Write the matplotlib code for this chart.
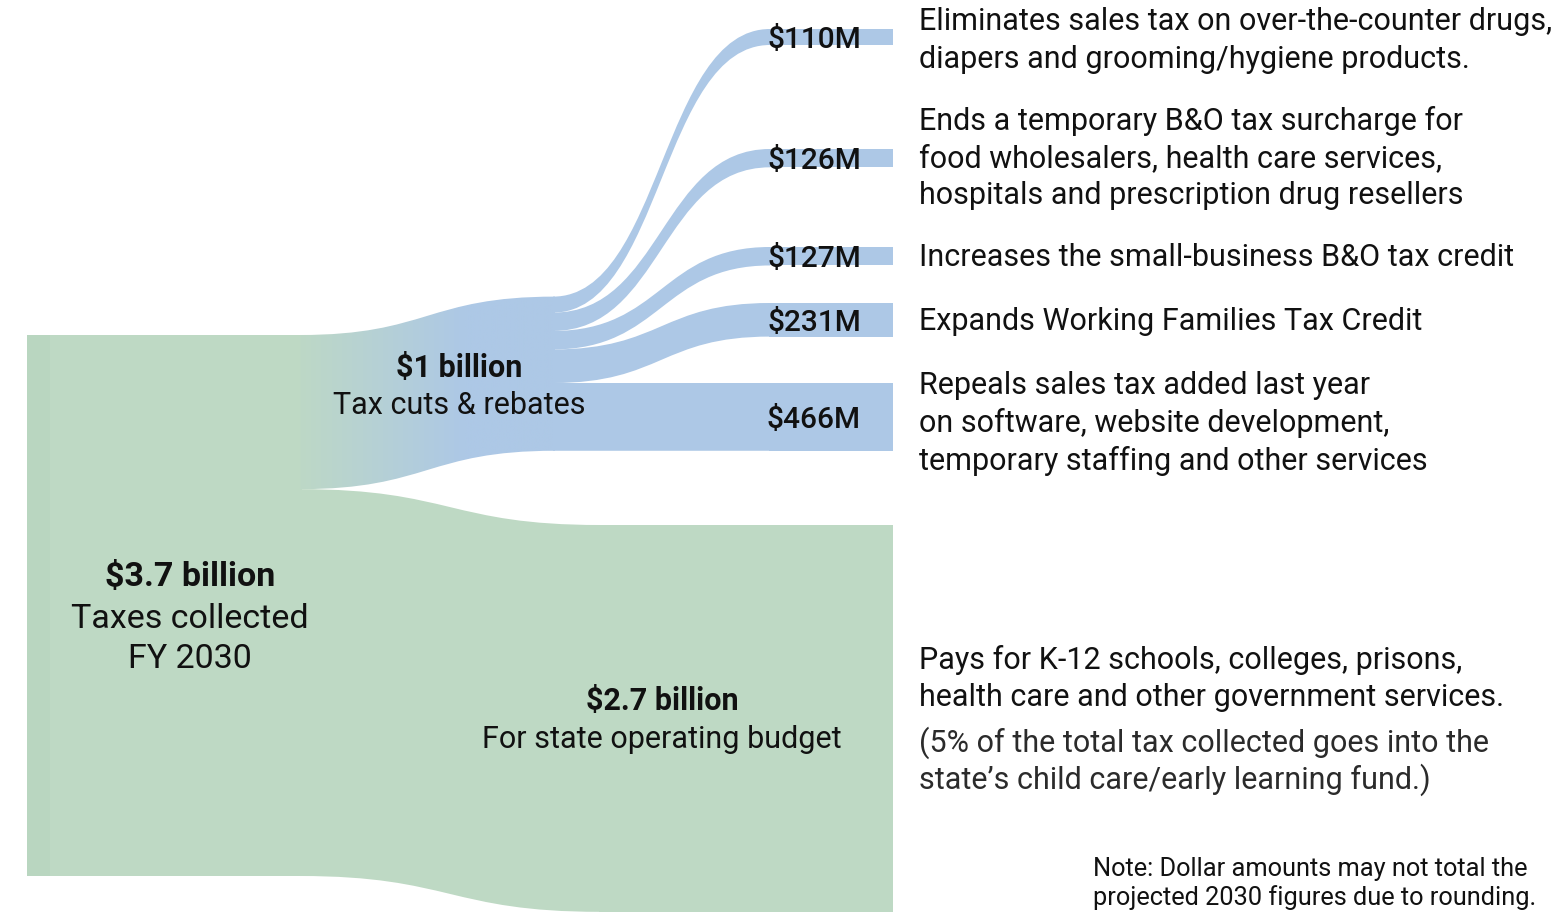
import numpy as np
import matplotlib.pyplot as plt
from matplotlib.path import Path
from matplotlib.patches import PathPatch, Rectangle
from matplotlib.colors import LinearSegmentedColormap

plt.rcParams['font.family'] = ['Roboto', 'DejaVu Sans']

# Data (billions)
total = 3.72
budget = 2.66
cut_values = [0.110, 0.126, 0.127, 0.231, 0.466]
cut_labels = ['$110M', '$126M', '$127M', '$231M', '$466M']
cut_texts = [
    ['Eliminates sales tax on over-the-counter drugs,',
     'diapers and grooming/hygiene products.'],
    ['Ends a temporary B&O tax surcharge for',
     'food wholesalers, health care services,',
     'hospitals and prescription drug resellers'],
    ['Increases the small-business B&O tax credit'],
    ['Expands Working Families Tax Credit'],
    ['Repeals sales tax added last year',
     'on software, website development,',
     'temporary staffing and other services'],
]
budget_text = ['Pays for K-12 schools, colleges, prisons,',
               'health care and other government services.']
fund_text = ['(5% of the total tax collected goes into the',
             'state\u2019s child care/early learning fund.)']
note_text = ['Note: Dollar amounts may not total the',
             'projected 2030 figures due to rounding.']

GREEN = '#bed9c4'
GREEN_DARK = '#b9d6c0'
BLUE = '#adc8e6'
INK = '#111111'
FS = 22
DY = 2  # text baseline nudge

# layout (pixel space)
scale = 541 / total
x_left, x_node, x_mid, x_split, x_end = 27, 300, 555, 770, 893
top_left = 335
cut_tops_right = [29, 149, 247, 303, 383]
budget_top_right = 525


def band(x0, x1, t0, t1, h0, h1=None):
    if h1 is None:
        h1 = h0
    xm = (x0 + x1) / 2
    verts = [(x0, t0), (xm, t0), (xm, t1), (x1, t1),
             (x1, t1 + h1), (xm, t1 + h1), (xm, t0 + h0), (x0, t0 + h0), (x0, t0)]
    codes = [Path.MOVETO, Path.CURVE4, Path.CURVE4, Path.CURVE4,
             Path.LINETO, Path.CURVE4, Path.CURVE4, Path.CURVE4, Path.CLOSEPOLY]
    return Path(verts, codes)


fig = plt.figure(figsize=(15.62, 9.23), dpi=100)
ax = fig.add_axes([0, 0, 1, 1])
ax.set_xlim(0, 1562)
ax.set_ylim(923, 0)
ax.axis('off')

# left node
h_total = total * scale
ax.add_patch(Rectangle((x_left, top_left), x_node - x_left + 2, h_total, color=GREEN, lw=0))
ax.add_patch(Rectangle((x_left, top_left), 23, h_total, color=GREEN_DARK, lw=0))

# blue link with gradient
h_cuts = sum(cut_values) * scale
mid_top = cut_tops_right[-1] - sum(cut_values[:-1]) * scale
p = PathPatch(band(x_node, x_mid, top_left, mid_top, h_cuts), facecolor='none', lw=0)
ax.add_patch(p)
cmap = LinearSegmentedColormap.from_list('gb', [GREEN, BLUE])
grad = np.clip((np.linspace(x_node - 5, x_mid + 5, 300) - 290) / (465 - 290), 0, 1)
im = ax.imshow(grad[None, :], cmap=cmap, extent=(x_node - 5, x_mid + 5, 500, 280),
               aspect='auto', vmin=0, vmax=1, zorder=1)
im.set_clip_path(p)

# green link to budget
h_budget = budget * scale
ax.add_patch(PathPatch(band(x_node, 600, top_left + h_cuts, budget_top_right, h_budget),
                       facecolor=GREEN, lw=0))
ax.add_patch(Rectangle((599, budget_top_right), x_end - 599, h_budget, color=GREEN, lw=0))

# sub-flows
y = mid_top
for v, t_r, lab in zip(cut_values, cut_tops_right, cut_labels):
    h = v * scale
    ax.add_patch(PathPatch(band(x_mid - 2, x_split, y, t_r, h), facecolor=BLUE, lw=0, zorder=2))
    ax.add_patch(Rectangle((x_split - 1, t_r), x_end - x_split + 1, h, color=BLUE, lw=0, zorder=2))
    ax.text(861, t_r + h / 2 + 1 + DY, lab, ha='right', va='center', fontsize=21.5,
            weight='medium', color=INK, zorder=3)
    y += h

# node labels
ax.text(190, 575 + DY, '$3.7 billion', ha='center', va='center', fontsize=24.5, weight='bold', color=INK)
ax.text(190, 617 + DY, 'Taxes collected', ha='center', va='center', fontsize=24.5, color=INK)
ax.text(190, 657 + DY, 'FY 2030', ha='center', va='center', fontsize=24.5, color=INK)
ax.text(459, 366 + DY, '$1 billion', ha='center', va='center', fontsize=FS, weight='bold', color=INK, zorder=3)
ax.text(459, 404 + DY, 'Tax cuts & rebates', ha='center', va='center', fontsize=FS, color=INK, zorder=3)
ax.text(662, 699 + DY, '$2.7 billion', ha='center', va='center', fontsize=FS, weight='bold', color=INK)
ax.text(662, 737 + DY, 'For state operating budget', ha='center', va='center', fontsize=FS, color=INK)

# descriptions
desc_y = [20, 119, 256, 320, 384]
for lines, y0 in zip(cut_texts, desc_y):
    for i, line in enumerate(lines):
        ax.text(919, y0 + DY + i * 37.5, line, ha='left', va='center', fontsize=FS, color=INK)
for i, line in enumerate(budget_text):
    ax.text(919, 658 + DY + i * 37, line, ha='left', va='center', fontsize=FS, color=INK)
for i, line in enumerate(fund_text):
    ax.text(919, 741 + DY + i * 37, line, ha='left', va='center', fontsize=FS, color='#2b2b2b')
for i, line in enumerate(note_text):
    ax.text(1093, 867 + DY + i * 29, line, ha='left', va='center', fontsize=18.3, color=INK)

fig.savefig('out.png', dpi=100)
